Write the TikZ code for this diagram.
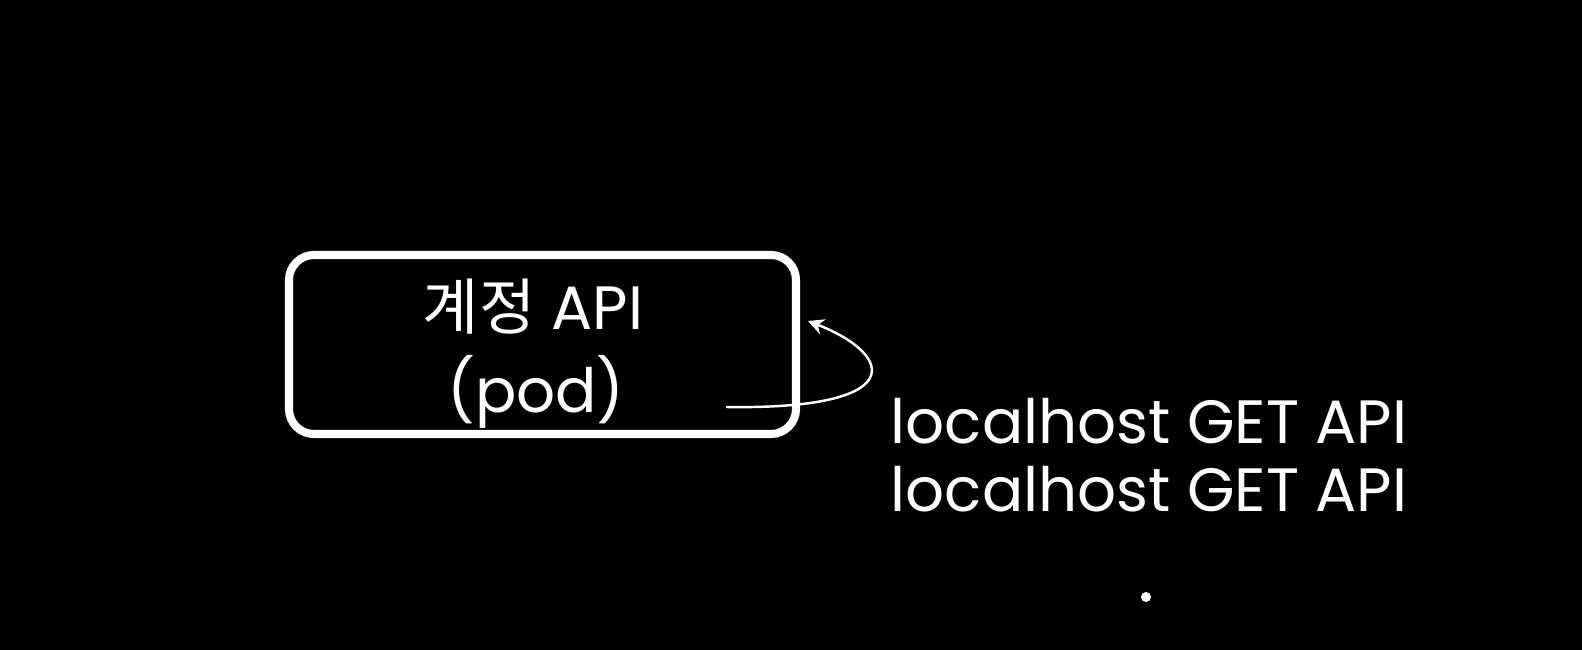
\documentclass[tikz,border=0pt]{standalone}
\usepackage{fontspec}
\setmainfont{Poppins}
\newfontfamily\cjk{Noto Sans CJK KR}
\usetikzlibrary{arrows.meta}

\tikzset{
    podbox/.style={draw=white, line width=2.3pt, rounded corners=0.25cm,
        minimum width=5.07cm, minimum height=1.79cm},
    bigtext/.style={text=white, inner sep=0pt, font=\fontsize{17.4}{19.4}\selectfont}
}

\begin{document}
\begin{tikzpicture}[>={Stealth[length=4.5pt,width=4.5pt]}]
        % Nền đen
        \fill[black] (0,0) rectangle (15.82,6.5);
        \useasboundingbox (0,0) rectangle (15.82,6.5);

        % Hộp pod
        \node[podbox] (pod) at (5.425,3.055) {};
        \node[bigtext, anchor=base] (podname) at (5.33,3.20) {{\cjk 계정} API};
        \node[bigtext, anchor=base] (podkind) at (5.36,2.37) {(pod)};

        % Văn bản bên phải
        \node[bigtext, anchor=base west] (callone) at (8.90,2.06) {localhost GET API};
        \node[bigtext, anchor=base west] (calltwo) at (8.90,1.38) {localhost GET API};

        % Mũi tên tự gọi
        \coordinate (callstart) at (7.26,2.43);
        \coordinate (callend) at (8.08,3.29);
        \draw[->, white, line width=0.7pt] (callstart) .. controls (9.10,2.40) and (8.95,2.95) .. (callend);

        % Chấm trắng
        \fill[white] (11.46,0.53) circle (0.05);
    \end{tikzpicture}
\end{document}
